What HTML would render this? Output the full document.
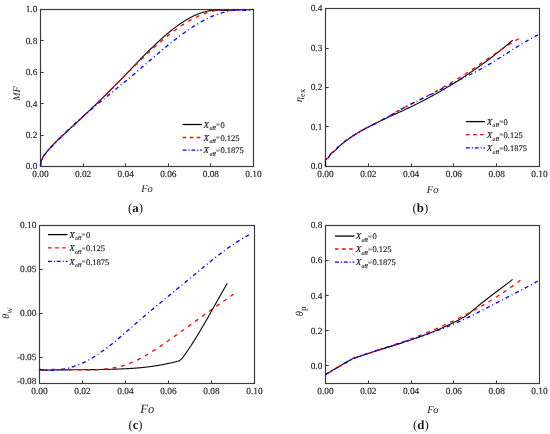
<!DOCTYPE html>
<html><head><meta charset="utf-8"><style>
html,body{margin:0;padding:0;background:#fff;}
svg{display:block;text-rendering:geometricPrecision;}
.t{font-family:"Liberation Serif", "Times New Roman", serif;font-size:9.3px;fill:#2a2a2a;stroke:#2a2a2a;stroke-width:0.18px;}
.lab{font-family:"Liberation Serif", "Times New Roman", serif;font-style:italic;fill:#222;}
.lg{font-family:"Liberation Serif", "Times New Roman", serif;font-size:8.5px;fill:#222;stroke:#222;stroke-width:0.15px;}
.cap{font-family:"Liberation Serif", "Times New Roman", serif;font-size:12.8px;fill:#1a1a1a;}
</style></head><body>
<svg width="550" height="434" viewBox="0 0 550 434">
<rect x="40.5" y="9.5" width="213.00" height="157.00" fill="none" stroke="#3c3c3c" stroke-width="1.2"/>
<text x="40.50" y="177.40" text-anchor="middle" class="t">0.00</text>
<line x1="83.50" y1="166.5" x2="83.50" y2="163.30" stroke="#3c3c3c" stroke-width="1.1"/>
<text x="83.10" y="177.40" text-anchor="middle" class="t">0.02</text>
<line x1="125.50" y1="166.5" x2="125.50" y2="163.30" stroke="#3c3c3c" stroke-width="1.1"/>
<text x="125.70" y="177.40" text-anchor="middle" class="t">0.04</text>
<line x1="168.50" y1="166.5" x2="168.50" y2="163.30" stroke="#3c3c3c" stroke-width="1.1"/>
<text x="168.30" y="177.40" text-anchor="middle" class="t">0.06</text>
<line x1="210.50" y1="166.5" x2="210.50" y2="163.30" stroke="#3c3c3c" stroke-width="1.1"/>
<text x="210.90" y="177.40" text-anchor="middle" class="t">0.08</text>
<text x="253.50" y="177.40" text-anchor="middle" class="t">0.10</text>
<text x="37.30" y="169.30" text-anchor="end" class="t">0.0</text>
<line x1="40.5" y1="135.50" x2="43.70" y2="135.50" stroke="#3c3c3c" stroke-width="1.1"/>
<text x="37.30" y="137.90" text-anchor="end" class="t">0.2</text>
<line x1="40.5" y1="103.50" x2="43.70" y2="103.50" stroke="#3c3c3c" stroke-width="1.1"/>
<text x="37.30" y="106.50" text-anchor="end" class="t">0.4</text>
<line x1="40.5" y1="72.50" x2="43.70" y2="72.50" stroke="#3c3c3c" stroke-width="1.1"/>
<text x="37.30" y="75.10" text-anchor="end" class="t">0.6</text>
<line x1="40.5" y1="40.50" x2="43.70" y2="40.50" stroke="#3c3c3c" stroke-width="1.1"/>
<text x="37.30" y="43.70" text-anchor="end" class="t">0.8</text>
<text x="37.30" y="12.30" text-anchor="end" class="t">1.0</text>
<polyline points="40.50,166.30 40.60,164.50 40.90,162.00 41.40,160.50 41.90,159.40 42.80,157.40 42.80,157.30 43.80,155.87 44.80,154.49 45.80,153.16 46.80,151.87 47.81,150.63 48.81,149.42 49.81,148.25 50.81,147.12 51.81,146.02 52.81,144.95 53.81,143.90 54.81,142.88 55.81,141.88 56.82,140.90 57.82,139.94 58.82,138.99 59.82,138.05 60.82,137.12 61.82,136.20 62.82,135.28 63.82,134.36 64.82,133.45 65.83,132.53 66.83,131.61 67.83,130.69 68.83,129.77 69.83,128.85 70.83,127.93 71.83,127.00 72.83,126.08 73.83,125.16 74.84,124.23 75.84,123.31 76.84,122.38 77.84,121.45 78.84,120.52 79.84,119.59 80.84,118.66 81.84,117.72 82.84,116.79 83.85,115.85 84.85,114.91 85.85,113.97 86.85,113.03 87.85,112.09 88.85,111.14 89.85,110.20 90.85,109.25 91.85,108.29 92.86,107.34 93.86,106.39 94.86,105.43 95.86,104.47 96.86,103.50 97.86,102.54 98.86,101.57 99.86,100.60 100.86,99.63 101.87,98.65 102.87,97.67 103.87,96.69 104.87,95.71 105.87,94.72 106.87,93.73 107.87,92.74 108.87,91.74 109.87,90.75 110.88,89.74 111.88,88.74 112.88,87.73 113.88,86.72 114.88,85.70 115.88,84.68 116.88,83.66 117.88,82.63 118.88,81.60 119.89,80.57 120.89,79.54 121.89,78.50 122.89,77.46 123.89,76.42 124.89,75.38 125.89,74.34 126.89,73.30 127.89,72.25 128.90,71.21 129.90,70.17 130.90,69.12 131.90,68.08 132.90,67.04 133.90,66.00 134.90,64.96 135.90,63.92 136.91,62.89 137.91,61.86 138.91,60.82 139.91,59.80 140.91,58.77 141.91,57.75 142.91,56.73 143.91,55.72 144.91,54.71 145.92,53.70 146.92,52.70 147.92,51.70 148.92,50.71 149.92,49.73 150.92,48.75 151.92,47.77 152.92,46.80 153.92,45.84 154.93,44.89 155.93,43.94 156.93,43.00 157.93,42.07 158.93,41.14 159.93,40.23 160.93,39.32 161.93,38.42 162.93,37.53 163.94,36.64 164.94,35.77 165.94,34.91 166.94,34.06 167.94,33.21 168.94,32.38 169.94,31.56 170.94,30.75 171.94,29.95 172.95,29.16 173.95,28.39 174.95,27.63 175.95,26.88 176.95,26.14 177.95,25.41 178.95,24.70 179.95,24.00 180.95,23.32 181.96,22.65 182.96,21.99 183.96,21.35 184.96,20.72 185.96,20.11 186.96,19.51 187.96,18.93 188.96,18.36 189.96,17.82 190.97,17.28 191.97,16.77 192.97,16.27 193.97,15.79 194.97,15.32 195.97,14.87 196.97,14.45 197.97,14.04 198.97,13.64 199.98,13.27 200.98,12.92 201.98,12.58 202.98,12.27 203.98,11.97 204.98,11.70 205.98,11.44 206.98,11.21 207.98,11.00 208.99,10.81 209.99,10.64 210.99,10.49 211.99,10.36 212.99,10.26 213.99,10.18 214.99,10.12 215.99,10.08 216.99,10.07 218.00,10.08 219.00,10.12 220.00,10.18 221.00,10.26 222.00,10.37 253.50,9.50" fill="none" stroke="#111111" stroke-width="1.15" stroke-linejoin="round"/>
<polyline points="40.50,166.30 40.60,164.50 40.90,162.00 41.40,160.50 41.90,159.40 42.80,157.40 42.80,157.06 43.80,155.71 44.80,154.40 45.80,153.12 46.80,151.88 47.81,150.68 48.81,149.51 49.81,148.37 50.81,147.26 51.81,146.17 52.81,145.11 53.81,144.08 54.81,143.06 55.81,142.06 56.82,141.08 57.82,140.11 58.82,139.16 59.82,138.22 60.82,137.28 61.82,136.35 62.82,135.43 63.82,134.51 64.82,133.58 65.82,132.66 66.83,131.74 67.83,130.81 68.83,129.88 69.83,128.95 70.83,128.02 71.83,127.08 72.83,126.15 73.83,125.21 74.83,124.27 75.84,123.33 76.84,122.39 77.84,121.44 78.84,120.49 79.84,119.55 80.84,118.60 81.84,117.64 82.84,116.69 83.84,115.74 84.85,114.78 85.85,113.82 86.85,112.86 87.85,111.90 88.85,110.94 89.85,109.98 90.85,109.01 91.85,108.04 92.85,107.08 93.86,106.11 94.86,105.14 95.86,104.17 96.86,103.19 97.86,102.22 98.86,101.25 99.86,100.27 100.86,99.29 101.86,98.31 102.86,97.33 103.87,96.35 104.87,95.37 105.87,94.39 106.87,93.41 107.87,92.42 108.87,91.44 109.87,90.45 110.87,89.46 111.87,88.47 112.88,87.48 113.88,86.49 114.88,85.50 115.88,84.51 116.88,83.52 117.88,82.53 118.88,81.53 119.88,80.54 120.88,79.55 121.89,78.55 122.89,77.56 123.89,76.56 124.89,75.56 125.89,74.57 126.89,73.58 127.89,72.58 128.89,71.59 129.89,70.60 130.90,69.61 131.90,68.62 132.90,67.63 133.90,66.64 134.90,65.66 135.90,64.68 136.90,63.70 137.90,62.73 138.90,61.75 139.90,60.78 140.91,59.81 141.91,58.85 142.91,57.89 143.91,56.93 144.91,55.98 145.91,55.03 146.91,54.09 147.91,53.15 148.91,52.22 149.92,51.29 150.92,50.36 151.92,49.44 152.92,48.53 153.92,47.62 154.92,46.72 155.92,45.83 156.92,44.94 157.92,44.05 158.93,43.18 159.93,42.31 160.93,41.45 161.93,40.59 162.93,39.74 163.93,38.90 164.93,38.07 165.93,37.25 166.93,36.43 167.94,35.62 168.94,34.83 169.94,34.04 170.94,33.25 171.94,32.48 172.94,31.72 173.94,30.97 174.94,30.22 175.94,29.49 176.94,28.77 177.95,28.06 178.95,27.35 179.95,26.66 180.95,25.98 181.95,25.31 182.95,24.66 183.95,24.01 184.95,23.37 185.95,22.75 186.96,22.14 187.96,21.54 188.96,20.96 189.96,20.38 190.96,19.82 191.96,19.28 192.96,18.74 193.96,18.22 194.96,17.71 195.97,17.22 196.97,16.74 197.97,16.28 198.97,15.83 199.97,15.39 200.97,14.97 201.97,14.56 202.97,14.17 203.97,13.80 204.98,13.44 205.98,13.09 206.98,12.76 207.98,12.45 208.98,12.15 209.98,11.87 210.98,11.61 211.98,11.37 212.98,11.14 213.98,10.93 214.99,10.73 215.99,10.56 216.99,10.40 217.99,10.26 218.99,10.14 219.99,10.03 220.99,9.95 221.99,9.88 222.99,9.83 224.00,9.81 225.00,9.80 226.00,9.81 227.00,9.84 228.00,9.89 253.50,9.50" fill="none" stroke="#ff0000" stroke-width="1.3" stroke-linejoin="round" stroke-dasharray="3.9 4.8"/>
<polyline points="40.50,166.30 40.60,164.50 40.90,162.00 41.40,160.50 41.90,159.40 42.80,157.40 42.80,156.67 43.80,155.51 44.80,154.35 45.80,153.21 46.80,152.08 47.80,150.95 48.81,149.84 49.81,148.73 50.81,147.64 51.81,146.55 52.81,145.48 53.81,144.41 54.81,143.35 55.81,142.30 56.81,141.26 57.81,140.22 58.82,139.20 59.82,138.18 60.82,137.17 61.82,136.16 62.82,135.17 63.82,134.18 64.82,133.20 65.82,132.23 66.82,131.26 67.82,130.30 68.83,129.35 69.83,128.40 70.83,127.46 71.83,126.53 72.83,125.60 73.83,124.68 74.83,123.76 75.83,122.85 76.83,121.95 77.83,121.05 78.84,120.15 79.84,119.26 80.84,118.37 81.84,117.49 82.84,116.62 83.84,115.74 84.84,114.88 85.84,114.01 86.84,113.15 87.84,112.30 88.85,111.44 89.85,110.59 90.85,109.75 91.85,108.90 92.85,108.06 93.85,107.22 94.85,106.39 95.85,105.56 96.85,104.73 97.85,103.90 98.86,103.07 99.86,102.25 100.86,101.43 101.86,100.60 102.86,99.79 103.86,98.97 104.86,98.15 105.86,97.33 106.86,96.52 107.86,95.70 108.87,94.89 109.87,94.07 110.87,93.26 111.87,92.45 112.87,91.63 113.87,90.82 114.87,90.00 115.87,89.19 116.87,88.37 117.87,87.55 118.87,86.73 119.88,85.91 120.88,85.09 121.88,84.27 122.88,83.45 123.88,82.62 124.88,81.79 125.88,80.96 126.88,80.13 127.88,79.30 128.88,78.46 129.89,77.62 130.89,76.78 131.89,75.93 132.89,75.08 133.89,74.23 134.89,73.38 135.89,72.52 136.89,71.67 137.89,70.81 138.89,69.95 139.90,69.09 140.90,68.23 141.90,67.36 142.90,66.50 143.90,65.64 144.90,64.77 145.90,63.91 146.90,63.04 147.90,62.18 148.90,61.32 149.91,60.45 150.91,59.59 151.91,58.73 152.91,57.87 153.91,57.02 154.91,56.16 155.91,55.31 156.91,54.46 157.91,53.61 158.91,52.76 159.92,51.91 160.92,51.07 161.92,50.23 162.92,49.40 163.92,48.57 164.92,47.74 165.92,46.91 166.92,46.09 167.92,45.28 168.92,44.47 169.93,43.66 170.93,42.86 171.93,42.06 172.93,41.27 173.93,40.48 174.93,39.70 175.93,38.92 176.93,38.15 177.93,37.39 178.93,36.63 179.93,35.88 180.94,35.14 181.94,34.40 182.94,33.67 183.94,32.95 184.94,32.23 185.94,31.52 186.94,30.82 187.94,30.13 188.94,29.45 189.94,28.77 190.95,28.11 191.95,27.45 192.95,26.80 193.95,26.16 194.95,25.53 195.95,24.91 196.95,24.30 197.95,23.70 198.95,23.11 199.95,22.53 200.96,21.96 201.96,21.40 202.96,20.85 203.96,20.32 204.96,19.79 205.96,19.28 206.96,18.78 207.96,18.29 208.96,17.81 209.96,17.34 210.97,16.89 211.97,16.45 212.97,16.02 213.97,15.61 214.97,15.21 215.97,14.82 216.97,14.45 217.97,14.09 218.97,13.74 219.97,13.41 220.98,13.09 221.98,12.79 222.98,12.50 223.98,12.23 224.98,11.97 225.98,11.73 226.98,11.50 227.98,11.29 228.98,11.09 229.98,10.92 230.99,10.75 231.99,10.61 232.99,10.48 233.99,10.37 234.99,10.27 235.99,10.19 236.99,10.13 237.99,10.09 238.99,10.07 239.99,10.06 241.00,10.07 242.00,10.10 243.00,10.15 244.00,10.22 245.00,10.31 246.00,10.41 253.50,9.50" fill="none" stroke="#0000ff" stroke-width="1.3" stroke-linejoin="round" stroke-dasharray="4.0 2.9 1.0 3.0"/>
<rect x="325.5" y="8.5" width="214.00" height="158.00" fill="none" stroke="#3c3c3c" stroke-width="1.2"/>
<text x="325.50" y="177.40" text-anchor="middle" class="t">0.00</text>
<line x1="368.50" y1="166.5" x2="368.50" y2="163.30" stroke="#3c3c3c" stroke-width="1.1"/>
<text x="368.30" y="177.40" text-anchor="middle" class="t">0.02</text>
<line x1="411.50" y1="166.5" x2="411.50" y2="163.30" stroke="#3c3c3c" stroke-width="1.1"/>
<text x="411.10" y="177.40" text-anchor="middle" class="t">0.04</text>
<line x1="453.50" y1="166.5" x2="453.50" y2="163.30" stroke="#3c3c3c" stroke-width="1.1"/>
<text x="453.90" y="177.40" text-anchor="middle" class="t">0.06</text>
<line x1="496.50" y1="166.5" x2="496.50" y2="163.30" stroke="#3c3c3c" stroke-width="1.1"/>
<text x="496.70" y="177.40" text-anchor="middle" class="t">0.08</text>
<text x="539.50" y="177.40" text-anchor="middle" class="t">0.10</text>
<text x="322.30" y="169.30" text-anchor="end" class="t">0.0</text>
<line x1="325.5" y1="126.50" x2="328.70" y2="126.50" stroke="#3c3c3c" stroke-width="1.1"/>
<text x="322.30" y="129.80" text-anchor="end" class="t">0.1</text>
<line x1="325.5" y1="87.50" x2="328.70" y2="87.50" stroke="#3c3c3c" stroke-width="1.1"/>
<text x="322.30" y="90.30" text-anchor="end" class="t">0.2</text>
<line x1="325.5" y1="48.50" x2="328.70" y2="48.50" stroke="#3c3c3c" stroke-width="1.1"/>
<text x="322.30" y="50.80" text-anchor="end" class="t">0.3</text>
<text x="322.30" y="11.30" text-anchor="end" class="t">0.4</text>
<polyline points="325.50,166.50 325.50,159.60 326.50,159.00 327.70,158.30 328.60,157.40 329.30,156.30 330.00,155.00 330.80,153.90 331.60,153.00 332.50,152.40 334.20,151.30 335.50,150.10 336.60,149.00 337.60,147.72 338.60,146.82 339.60,145.95 340.60,145.10 341.60,144.27 342.60,143.46 343.60,142.66 344.60,141.89 345.60,141.13 346.61,140.39 347.61,139.66 348.61,138.94 349.61,138.24 350.61,137.55 351.61,136.87 352.61,136.20 353.61,135.54 354.61,134.89 355.61,134.25 356.61,133.62 357.61,133.00 358.61,132.39 359.61,131.78 360.61,131.19 361.61,130.60 362.61,130.03 363.61,129.46 364.62,128.89 365.62,128.34 366.62,127.79 367.62,127.25 368.62,126.72 369.62,126.19 370.62,125.67 371.62,125.15 372.62,124.64 373.62,124.14 374.62,123.64 375.62,123.14 376.62,122.65 377.62,122.17 378.62,121.68 379.62,121.21 380.62,120.73 381.63,120.26 382.63,119.79 383.63,119.33 384.63,118.87 385.63,118.41 386.63,117.95 387.63,117.49 388.63,117.04 389.63,116.58 390.63,116.13 391.63,115.68 392.63,115.23 393.63,114.78 394.63,114.33 395.63,113.88 396.63,113.43 397.63,112.98 398.63,112.52 399.64,112.07 400.64,111.61 401.64,111.16 402.64,110.70 403.64,110.24 404.64,109.77 405.64,109.31 406.64,108.84 407.64,108.37 408.64,107.89 409.64,107.42 410.64,106.94 411.64,106.45 412.64,105.97 413.64,105.48 414.64,104.99 415.64,104.49 416.65,104.00 417.65,103.50 418.65,102.99 419.65,102.49 420.65,101.98 421.65,101.46 422.65,100.95 423.65,100.43 424.65,99.91 425.65,99.38 426.65,98.86 427.65,98.33 428.65,97.79 429.65,97.26 430.65,96.72 431.65,96.17 432.65,95.63 433.65,95.08 434.66,94.52 435.66,93.97 436.66,93.41 437.66,92.85 438.66,92.28 439.66,91.71 440.66,91.14 441.66,90.56 442.66,89.98 443.66,89.40 444.66,88.82 445.66,88.23 446.66,87.63 447.66,87.04 448.66,86.44 449.66,85.84 450.66,85.23 451.67,84.62 452.67,84.01 453.67,83.39 454.67,82.77 455.67,82.15 456.67,81.52 457.67,80.89 458.67,80.25 459.67,79.61 460.67,78.97 461.67,78.33 462.67,77.68 463.67,77.03 464.67,76.37 465.67,75.71 466.67,75.05 467.67,74.38 468.67,73.71 469.68,73.03 470.68,72.35 471.68,71.67 472.68,70.99 473.68,70.30 474.68,69.60 475.68,68.91 476.68,68.20 477.68,67.50 478.68,66.79 479.68,66.08 480.68,65.36 481.68,64.64 482.68,63.91 483.68,63.18 484.68,62.45 485.68,61.71 486.69,60.97 487.69,60.23 488.69,59.48 489.69,58.73 490.69,57.97 491.69,57.21 492.69,56.44 493.69,55.67 494.69,54.90 495.69,54.12 496.69,53.34 497.69,52.56 498.69,51.77 499.69,50.97 500.69,50.17 501.69,49.37 502.69,48.56 503.69,47.75 504.70,46.94 505.70,46.12 506.70,45.29 507.70,44.46 508.70,43.63 509.70,42.79 510.70,41.95 511.70,41.11 512.70,40.26" fill="none" stroke="#111111" stroke-width="1.15" stroke-linejoin="round"/>
<polyline points="325.50,166.50 325.50,159.60 326.50,159.00 327.70,158.30 328.60,157.40 329.30,156.30 330.00,155.00 330.80,153.90 331.60,153.00 332.50,152.40 334.20,151.30 335.50,150.10 336.60,149.00 337.60,147.58 338.60,146.66 339.60,145.76 340.60,144.89 341.60,144.03 342.60,143.21 343.60,142.40 344.60,141.61 345.60,140.85 346.60,140.10 347.61,139.37 348.61,138.66 349.61,137.97 350.61,137.29 351.61,136.63 352.61,135.98 353.61,135.34 354.61,134.72 355.61,134.11 356.61,133.51 357.61,132.92 358.61,132.34 359.61,131.76 360.61,131.20 361.61,130.65 362.61,130.10 363.61,129.56 364.61,129.02 365.62,128.49 366.62,127.97 367.62,127.45 368.62,126.93 369.62,126.42 370.62,125.91 371.62,125.40 372.62,124.89 373.62,124.38 374.62,123.87 375.62,123.36 376.62,122.85 377.62,122.33 378.62,121.82 379.62,121.30 380.62,120.77 381.62,120.25 382.62,119.71 383.63,119.17 384.63,118.63 385.63,118.07 386.63,117.51 387.63,116.95 388.63,116.38 389.63,115.81 390.63,115.23 391.63,114.66 392.63,114.08 393.63,113.50 394.63,112.93 395.63,112.36 396.63,111.79 397.63,111.23 398.63,110.68 399.63,110.13 400.63,109.60 401.64,109.07 402.64,108.55 403.64,108.03 404.64,107.52 405.64,107.02 406.64,106.51 407.64,106.02 408.64,105.52 409.64,105.02 410.64,104.52 411.64,104.02 412.64,103.51 413.64,103.01 414.64,102.51 415.64,102.00 416.64,101.49 417.64,100.98 418.64,100.47 419.65,99.96 420.65,99.44 421.65,98.92 422.65,98.40 423.65,97.88 424.65,97.36 425.65,96.84 426.65,96.31 427.65,95.78 428.65,95.25 429.65,94.72 430.65,94.18 431.65,93.64 432.65,93.10 433.65,92.56 434.65,92.02 435.65,91.47 436.65,90.92 437.66,90.37 438.66,89.81 439.66,89.26 440.66,88.70 441.66,88.13 442.66,87.57 443.66,87.00 444.66,86.43 445.66,85.86 446.66,85.28 447.66,84.70 448.66,84.12 449.66,83.53 450.66,82.94 451.66,82.35 452.66,81.75 453.66,81.15 454.66,80.55 455.67,79.95 456.67,79.34 457.67,78.73 458.67,78.11 459.67,77.49 460.67,76.87 461.67,76.24 462.67,75.61 463.67,74.98 464.67,74.34 465.67,73.70 466.67,73.06 467.67,72.41 468.67,71.75 469.67,71.10 470.67,70.44 471.67,69.77 472.67,69.10 473.68,68.43 474.68,67.76 475.68,67.08 476.68,66.40 477.68,65.71 478.68,65.03 479.68,64.34 480.68,63.65 481.68,62.96 482.68,62.27 483.68,61.58 484.68,60.89 485.68,60.20 486.68,59.50 487.68,58.81 488.68,58.12 489.68,57.43 490.68,56.73 491.69,56.04 492.69,55.36 493.69,54.67 494.69,53.98 495.69,53.30 496.69,52.62 497.69,51.94 498.69,51.27 499.69,50.59 500.69,49.92 501.69,49.26 502.69,48.60 503.69,47.94 504.69,47.29 505.69,46.64 506.69,45.99 507.69,45.36 508.69,44.72 509.70,44.09 510.70,43.47 511.70,42.86 512.70,42.25 513.70,41.64 514.70,41.05 515.70,40.46 516.70,39.88 517.70,39.30 518.70,38.74" fill="none" stroke="#ff0000" stroke-width="1.3" stroke-linejoin="round" stroke-dasharray="3.9 4.8" stroke-dashoffset="2.89"/>
<polyline points="325.50,166.50 325.50,159.60 326.50,159.00 327.70,158.30 328.60,157.40 329.30,156.30 330.00,155.00 330.80,153.90 331.60,153.00 332.50,152.40 334.20,151.30 335.50,150.10 336.60,149.00 337.60,147.55 338.60,146.63 339.60,145.73 340.61,144.85 341.61,144.00 342.61,143.17 343.61,142.37 344.61,141.59 345.62,140.82 346.62,140.08 347.62,139.35 348.62,138.65 349.62,137.96 350.63,137.28 351.63,136.62 352.63,135.98 353.63,135.35 354.63,134.73 355.64,134.12 356.64,133.53 357.64,132.94 358.64,132.36 359.64,131.79 360.65,131.23 361.65,130.67 362.65,130.12 363.65,129.58 364.65,129.04 365.66,128.51 366.66,127.98 367.66,127.45 368.66,126.93 369.66,126.41 370.67,125.89 371.67,125.38 372.67,124.87 373.67,124.35 374.67,123.84 375.68,123.33 376.68,122.81 377.68,122.30 378.68,121.78 379.68,121.27 380.69,120.75 381.69,120.23 382.69,119.70 383.69,119.17 384.69,118.64 385.70,118.10 386.70,117.55 387.70,117.00 388.70,116.45 389.70,115.89 390.71,115.32 391.71,114.74 392.71,114.16 393.71,113.58 394.71,112.99 395.72,112.40 396.72,111.81 397.72,111.22 398.72,110.64 399.72,110.05 400.73,109.48 401.73,108.91 402.73,108.34 403.73,107.79 404.73,107.24 405.74,106.70 406.74,106.18 407.74,105.66 408.74,105.16 409.74,104.66 410.75,104.16 411.75,103.68 412.75,103.20 413.75,102.72 414.75,102.24 415.76,101.77 416.76,101.30 417.76,100.82 418.76,100.35 419.76,99.88 420.77,99.40 421.77,98.92 422.77,98.43 423.77,97.95 424.77,97.46 425.78,96.96 426.78,96.47 427.78,95.97 428.78,95.48 429.78,94.98 430.79,94.47 431.79,93.97 432.79,93.47 433.79,92.96 434.79,92.45 435.80,91.94 436.80,91.43 437.80,90.92 438.80,90.41 439.80,89.90 440.81,89.39 441.81,88.88 442.81,88.36 443.81,87.85 444.81,87.34 445.82,86.83 446.82,86.31 447.82,85.80 448.82,85.29 449.82,84.78 450.83,84.27 451.83,83.77 452.83,83.26 453.83,82.75 454.83,82.25 455.84,81.75 456.84,81.25 457.84,80.75 458.84,80.25 459.84,79.75 460.85,79.25 461.85,78.76 462.85,78.26 463.85,77.76 464.85,77.26 465.86,76.76 466.86,76.26 467.86,75.76 468.86,75.26 469.86,74.75 470.87,74.24 471.87,73.73 472.87,73.22 473.87,72.70 474.87,72.18 475.88,71.66 476.88,71.13 477.88,70.60 478.88,70.07 479.88,69.53 480.89,68.98 481.89,68.44 482.89,67.88 483.89,67.32 484.89,66.75 485.90,66.18 486.90,65.60 487.90,65.02 488.90,64.43 489.90,63.84 490.91,63.24 491.91,62.64 492.91,62.03 493.91,61.42 494.91,60.80 495.92,60.18 496.92,59.56 497.92,58.94 498.92,58.31 499.92,57.68 500.93,57.05 501.93,56.42 502.93,55.79 503.93,55.15 504.93,54.52 505.94,53.88 506.94,53.24 507.94,52.61 508.94,51.97 509.94,51.34 510.95,50.70 511.95,50.07 512.95,49.44 513.95,48.81 514.95,48.18 515.96,47.55 516.96,46.93 517.96,46.31 518.96,45.69 519.96,45.08 520.97,44.47 521.97,43.86 522.97,43.26 523.97,42.66 524.97,42.07 525.98,41.48 526.98,40.90 527.98,40.32 528.98,39.75 529.98,39.18 530.99,38.62 531.99,38.07 532.99,37.53 533.99,36.99 534.99,36.46 536.00,35.94 537.00,35.43 538.00,34.92" fill="none" stroke="#0000ff" stroke-width="1.3" stroke-linejoin="round" stroke-dasharray="4.0 2.9 1.0 3.0"/>
<rect x="39.5" y="225.5" width="215.00" height="158.00" fill="none" stroke="#3c3c3c" stroke-width="1.2"/>
<text x="39.50" y="394.40" text-anchor="middle" class="t">0.00</text>
<line x1="82.50" y1="383.5" x2="82.50" y2="380.30" stroke="#3c3c3c" stroke-width="1.1"/>
<text x="82.50" y="394.40" text-anchor="middle" class="t">0.02</text>
<line x1="125.50" y1="383.5" x2="125.50" y2="380.30" stroke="#3c3c3c" stroke-width="1.1"/>
<text x="125.50" y="394.40" text-anchor="middle" class="t">0.04</text>
<line x1="168.50" y1="383.5" x2="168.50" y2="380.30" stroke="#3c3c3c" stroke-width="1.1"/>
<text x="168.50" y="394.40" text-anchor="middle" class="t">0.06</text>
<line x1="211.50" y1="383.5" x2="211.50" y2="380.30" stroke="#3c3c3c" stroke-width="1.1"/>
<text x="211.50" y="394.40" text-anchor="middle" class="t">0.08</text>
<text x="254.50" y="394.40" text-anchor="middle" class="t">0.10</text>
<text x="36.30" y="384.30" text-anchor="end" class="t">-0.08</text>
<line x1="39.5" y1="357.50" x2="42.70" y2="357.50" stroke="#3c3c3c" stroke-width="1.1"/>
<text x="36.30" y="359.97" text-anchor="end" class="t">-0.05</text>
<line x1="39.5" y1="313.50" x2="42.70" y2="313.50" stroke="#3c3c3c" stroke-width="1.1"/>
<text x="36.30" y="316.08" text-anchor="end" class="t">0.00</text>
<line x1="39.5" y1="269.50" x2="42.70" y2="269.50" stroke="#3c3c3c" stroke-width="1.1"/>
<text x="36.30" y="272.19" text-anchor="end" class="t">0.05</text>
<text x="36.30" y="228.30" text-anchor="end" class="t">0.10</text>
<polyline points="39.50,370.26 40.00,370.25 40.50,370.23 41.00,370.22 41.50,370.21 42.00,370.20 42.50,370.18 43.01,370.17 43.51,370.16 44.01,370.15 44.51,370.14 45.01,370.13 45.51,370.12 46.01,370.11 46.51,370.10 47.01,370.09 47.51,370.08 48.01,370.07 48.51,370.06 49.02,370.05 49.52,370.04 50.02,370.03 50.52,370.02 51.02,370.02 51.52,370.01 52.02,370.00 52.52,369.99 53.02,369.98 53.52,369.98 54.02,369.97 54.52,369.96 55.02,369.96 55.53,369.95 56.03,369.94 56.53,369.94 57.03,369.93 57.53,369.92 58.03,369.92 58.53,369.91 59.03,369.91 59.53,369.90 60.03,369.90 60.53,369.89 61.03,369.89 61.54,369.88 62.04,369.87 62.54,369.87 63.04,369.87 63.54,369.86 64.04,369.86 64.54,369.85 65.04,369.85 65.54,369.84 66.04,369.84 66.54,369.83 67.04,369.83 67.54,369.83 68.05,369.82 68.55,369.82 69.05,369.81 69.55,369.81 70.05,369.81 70.55,369.80 71.05,369.80 71.55,369.80 72.05,369.79 72.55,369.79 73.05,369.78 73.55,369.78 74.06,369.78 74.56,369.77 75.06,369.77 75.56,369.77 76.06,369.76 76.56,369.76 77.06,369.76 77.56,369.75 78.06,369.75 78.56,369.74 79.06,369.74 79.56,369.74 80.06,369.73 80.57,369.73 81.07,369.73 81.57,369.72 82.07,369.72 82.57,369.71 83.07,369.71 83.57,369.71 84.07,369.70 84.57,369.70 85.07,369.69 85.57,369.69 86.07,369.68 86.58,369.68 87.08,369.67 87.58,369.67 88.08,369.66 88.58,369.66 89.08,369.65 89.58,369.65 90.08,369.64 90.58,369.64 91.08,369.63 91.58,369.63 92.08,369.62 92.58,369.62 93.09,369.61 93.59,369.60 94.09,369.60 94.59,369.59 95.09,369.58 95.59,369.58 96.09,369.57 96.59,369.56 97.09,369.56 97.59,369.55 98.09,369.54 98.59,369.53 99.10,369.53 99.60,369.52 100.10,369.51 100.60,369.50 101.10,369.49 101.60,369.48 102.10,369.47 102.60,369.46 103.10,369.45 103.60,369.44 104.10,369.43 104.60,369.42 105.10,369.41 105.61,369.40 106.11,369.39 106.61,369.38 107.11,369.37 107.61,369.36 108.11,369.35 108.61,369.33 109.11,369.32 109.61,369.31 110.11,369.30 110.61,369.28 111.11,369.27 111.62,369.25 112.12,369.24 112.62,369.23 113.12,369.21 113.62,369.20 114.12,369.18 114.62,369.17 115.12,369.15 115.62,369.13 116.12,369.12 116.62,369.10 117.12,369.08 117.62,369.06 118.13,369.05 118.63,369.03 119.13,369.01 119.63,368.99 120.13,368.97 120.63,368.95 121.13,368.93 121.63,368.91 122.13,368.89 122.63,368.87 123.13,368.84 123.63,368.82 124.14,368.80 124.64,368.77 125.14,368.75 125.64,368.73 126.14,368.70 126.64,368.67 127.14,368.65 127.64,368.62 128.14,368.59 128.64,368.56 129.14,368.53 129.64,368.51 130.14,368.47 130.65,368.44 131.15,368.41 131.65,368.38 132.15,368.35 132.65,368.31 133.15,368.28 133.65,368.24 134.15,368.21 134.65,368.17 135.15,368.13 135.65,368.10 136.15,368.06 136.66,368.02 137.16,367.98 137.66,367.94 138.16,367.89 138.66,367.85 139.16,367.81 139.66,367.76 140.16,367.72 140.66,367.67 141.16,367.62 141.66,367.57 142.16,367.53 142.66,367.48 143.17,367.42 143.67,367.37 144.17,367.32 144.67,367.27 145.17,367.21 145.67,367.15 146.17,367.10 146.67,367.04 147.17,366.98 147.67,366.92 148.17,366.86 148.67,366.80 149.18,366.73 149.68,366.67 150.18,366.61 150.68,366.54 151.18,366.47 151.68,366.40 152.18,366.33 152.68,366.26 153.18,366.19 153.68,366.12 154.18,366.04 154.68,365.97 155.18,365.89 155.69,365.81 156.19,365.73 156.69,365.65 157.19,365.57 157.69,365.49 158.19,365.40 158.69,365.32 159.19,365.23 159.69,365.14 160.19,365.05 160.69,364.96 161.19,364.87 161.70,364.78 162.20,364.68 162.70,364.59 163.20,364.49 163.70,364.39 164.20,364.30 164.70,364.20 165.20,364.10 165.70,363.99 166.20,363.89 166.70,363.79 167.20,363.68 167.70,363.58 168.21,363.47 168.71,363.36 169.21,363.25 169.71,363.14 170.21,363.03 170.71,362.92 171.21,362.80 171.71,362.69 172.21,362.57 172.71,362.45 173.21,362.34 173.71,362.22 174.22,362.10 174.72,361.98 175.22,361.86 175.72,361.73 176.22,361.61 176.72,361.48 177.22,361.35 177.72,361.21 178.22,361.05 178.72,360.86 179.22,360.64 179.72,360.37 180.22,360.05 180.73,359.68 181.23,359.23 181.73,358.72 182.23,358.13 182.73,357.49 183.23,356.81 183.73,356.13 184.23,355.44 184.73,354.74 185.23,354.04 185.73,353.34 186.23,352.62 186.74,351.91 187.24,351.18 187.74,350.45 188.24,349.72 188.74,348.98 189.24,348.24 189.74,347.49 190.24,346.73 190.74,345.97 191.24,345.21 191.74,344.44 192.24,343.66 192.74,342.88 193.25,342.10 193.75,341.31 194.25,340.52 194.75,339.72 195.25,338.92 195.75,338.12 196.25,337.31 196.75,336.49 197.25,335.68 197.75,334.85 198.25,334.03 198.75,333.20 199.26,332.37 199.76,331.53 200.26,330.69 200.76,329.85 201.26,329.00 201.76,328.15 202.26,327.29 202.76,326.44 203.26,325.58 203.76,324.71 204.26,323.85 204.76,322.98 205.26,322.11 205.77,321.24 206.27,320.36 206.77,319.49 207.27,318.61 207.77,317.73 208.27,316.85 208.77,315.96 209.27,315.08 209.77,314.19 210.27,313.30 210.77,312.41 211.27,311.52 211.78,310.63 212.28,309.74 212.78,308.85 213.28,307.96 213.78,307.07 214.28,306.17 214.78,305.28 215.28,304.39 215.78,303.50 216.28,302.60 216.78,301.71 217.28,300.82 217.78,299.93 218.29,299.04 218.79,298.15 219.29,297.26 219.79,296.38 220.29,295.49 220.79,294.61 221.29,293.73 221.79,292.84 222.29,291.97 222.79,291.09 223.29,290.21 223.79,289.34 224.30,288.47 224.80,287.60 225.30,286.74 225.80,285.87 226.30,285.01 226.80,284.16 227.30,283.30" fill="none" stroke="#111111" stroke-width="1.15" stroke-linejoin="round"/>
<polyline points="39.50,370.40 40.50,370.28 41.50,370.16 42.50,370.05 43.50,369.96 44.50,369.87 45.50,369.78 46.50,369.71 47.50,369.64 48.50,369.58 49.51,369.53 50.51,369.48 51.51,369.44 52.51,369.41 53.51,369.38 54.51,369.36 55.51,369.34 56.51,369.32 57.51,369.32 58.51,369.31 59.51,369.31 60.51,369.32 61.51,369.32 62.51,369.34 63.51,369.35 64.51,369.37 65.51,369.39 66.51,369.41 67.51,369.43 68.51,369.46 69.52,369.48 70.52,369.51 71.52,369.54 72.52,369.57 73.52,369.60 74.52,369.63 75.52,369.66 76.52,369.69 77.52,369.72 78.52,369.74 79.52,369.77 80.52,369.79 81.52,369.82 82.52,369.84 83.52,369.85 84.52,369.87 85.52,369.88 86.52,369.89 87.52,369.90 88.53,369.90 89.53,369.90 90.53,369.89 91.53,369.88 92.53,369.87 93.53,369.84 94.53,369.82 95.53,369.79 96.53,369.75 97.53,369.71 98.53,369.66 99.53,369.60 100.53,369.53 101.53,369.46 102.53,369.38 103.53,369.30 104.53,369.20 105.53,369.10 106.53,368.99 107.54,368.87 108.54,368.74 109.54,368.60 110.54,368.45 111.54,368.29 112.54,368.12 113.54,367.94 114.54,367.75 115.54,367.55 116.54,367.34 117.54,367.11 118.54,366.88 119.54,366.63 120.54,366.37 121.54,366.10 122.54,365.81 123.54,365.51 124.54,365.20 125.54,364.87 126.54,364.53 127.55,364.17 128.55,363.80 129.55,363.42 130.55,363.02 131.55,362.61 132.55,362.18 133.55,361.74 134.55,361.29 135.55,360.82 136.55,360.35 137.55,359.86 138.55,359.35 139.55,358.84 140.55,358.32 141.55,357.78 142.55,357.24 143.55,356.68 144.55,356.12 145.55,355.55 146.56,354.96 147.56,354.37 148.56,353.77 149.56,353.17 150.56,352.55 151.56,351.93 152.56,351.30 153.56,350.66 154.56,350.02 155.56,349.37 156.56,348.72 157.56,348.06 158.56,347.40 159.56,346.73 160.56,346.06 161.56,345.38 162.56,344.70 163.56,344.02 164.56,343.33 165.56,342.64 166.57,341.95 167.57,341.25 168.57,340.55 169.57,339.85 170.57,339.15 171.57,338.44 172.57,337.73 173.57,337.02 174.57,336.31 175.57,335.59 176.57,334.88 177.57,334.16 178.57,333.44 179.57,332.72 180.57,331.99 181.57,331.27 182.57,330.55 183.57,329.82 184.57,329.09 185.58,328.37 186.58,327.64 187.58,326.91 188.58,326.18 189.58,325.45 190.58,324.72 191.58,323.99 192.58,323.26 193.58,322.54 194.58,321.81 195.58,321.08 196.58,320.35 197.58,319.62 198.58,318.90 199.58,318.17 200.58,317.45 201.58,316.73 202.58,316.00 203.58,315.28 204.59,314.57 205.59,313.85 206.59,313.13 207.59,312.42 208.59,311.71 209.59,311.00 210.59,310.29 211.59,309.58 212.59,308.87 213.59,308.17 214.59,307.46 215.59,306.75 216.59,306.05 217.59,305.35 218.59,304.64 219.59,303.94 220.59,303.24 221.59,302.53 222.59,301.83 223.59,301.13 224.60,300.42 225.60,299.72 226.60,299.01 227.60,298.31 228.60,297.60 229.60,296.89 230.60,296.19 231.60,295.48 232.60,294.77 233.60,294.05" fill="none" stroke="#ff0000" stroke-width="1.3" stroke-linejoin="round" stroke-dasharray="3.9 4.8" stroke-dashoffset="5.26"/>
<polyline points="39.50,369.27 40.50,369.44 41.50,369.59 42.50,369.73 43.50,369.85 44.50,369.96 45.51,370.05 46.51,370.13 47.51,370.19 48.51,370.24 49.51,370.27 50.51,370.29 51.51,370.29 52.51,370.28 53.51,370.25 54.51,370.20 55.52,370.14 56.52,370.07 57.52,369.98 58.52,369.88 59.52,369.76 60.52,369.63 61.52,369.48 62.52,369.32 63.52,369.14 64.52,368.95 65.52,368.74 66.53,368.52 67.53,368.28 68.53,368.03 69.53,367.77 70.53,367.49 71.53,367.19 72.53,366.88 73.53,366.56 74.53,366.22 75.53,365.87 76.54,365.51 77.54,365.12 78.54,364.73 79.54,364.32 80.54,363.90 81.54,363.46 82.54,363.01 83.54,362.54 84.54,362.06 85.54,361.57 86.54,361.06 87.55,360.54 88.55,360.00 89.55,359.45 90.55,358.89 91.55,358.31 92.55,357.72 93.55,357.12 94.55,356.50 95.55,355.86 96.55,355.22 97.55,354.56 98.56,353.89 99.56,353.21 100.56,352.51 101.56,351.80 102.56,351.09 103.56,350.36 104.56,349.62 105.56,348.87 106.56,348.12 107.56,347.35 108.57,346.57 109.57,345.79 110.57,345.00 111.57,344.20 112.57,343.39 113.57,342.58 114.57,341.76 115.57,340.93 116.57,340.10 117.57,339.27 118.57,338.42 119.58,337.58 120.58,336.72 121.58,335.87 122.58,335.01 123.58,334.15 124.58,333.28 125.58,332.42 126.58,331.55 127.58,330.68 128.58,329.80 129.59,328.93 130.59,328.06 131.59,327.18 132.59,326.31 133.59,325.43 134.59,324.56 135.59,323.69 136.59,322.82 137.59,321.95 138.59,321.09 139.59,320.22 140.60,319.36 141.60,318.50 142.60,317.65 143.60,316.80 144.60,315.94 145.60,315.09 146.60,314.25 147.60,313.40 148.60,312.56 149.60,311.72 150.61,310.88 151.61,310.04 152.61,309.20 153.61,308.37 154.61,307.53 155.61,306.70 156.61,305.87 157.61,305.04 158.61,304.21 159.61,303.38 160.61,302.55 161.62,301.73 162.62,300.90 163.62,300.08 164.62,299.25 165.62,298.42 166.62,297.60 167.62,296.78 168.62,295.95 169.62,295.13 170.62,294.30 171.63,293.48 172.63,292.65 173.63,291.83 174.63,291.01 175.63,290.18 176.63,289.36 177.63,288.53 178.63,287.71 179.63,286.88 180.63,286.06 181.63,285.23 182.64,284.40 183.64,283.58 184.64,282.75 185.64,281.93 186.64,281.10 187.64,280.28 188.64,279.45 189.64,278.62 190.64,277.80 191.64,276.97 192.65,276.14 193.65,275.32 194.65,274.49 195.65,273.66 196.65,272.84 197.65,272.01 198.65,271.18 199.65,270.36 200.65,269.53 201.65,268.71 202.65,267.88 203.66,267.06 204.66,266.24 205.66,265.42 206.66,264.60 207.66,263.79 208.66,262.98 209.66,262.17 210.66,261.36 211.66,260.56 212.66,259.75 213.66,258.96 214.67,258.16 215.67,257.37 216.67,256.59 217.67,255.81 218.67,255.03 219.67,254.26 220.67,253.49 221.67,252.73 222.67,251.98 223.67,251.23 224.68,250.48 225.68,249.75 226.68,249.02 227.68,248.29 228.68,247.57 229.68,246.86 230.68,246.16 231.68,245.46 232.68,244.78 233.68,244.10 234.68,243.42 235.69,242.76 236.69,242.11 237.69,241.46 238.69,240.83 239.69,240.20 240.69,239.58 241.69,238.97 242.69,238.38 243.69,237.79 244.69,237.21 245.70,236.65 246.70,236.09 247.70,235.55 248.70,235.01 249.70,234.49 250.70,233.98" fill="none" stroke="#0000ff" stroke-width="1.3" stroke-linejoin="round" stroke-dasharray="4.0 2.9 1.0 3.0"/>
<rect x="325.5" y="225.5" width="214.00" height="158.00" fill="none" stroke="#3c3c3c" stroke-width="1.2"/>
<text x="325.50" y="394.40" text-anchor="middle" class="t">0.00</text>
<line x1="368.50" y1="383.5" x2="368.50" y2="380.30" stroke="#3c3c3c" stroke-width="1.1"/>
<text x="368.30" y="394.40" text-anchor="middle" class="t">0.02</text>
<line x1="411.50" y1="383.5" x2="411.50" y2="380.30" stroke="#3c3c3c" stroke-width="1.1"/>
<text x="411.10" y="394.40" text-anchor="middle" class="t">0.04</text>
<line x1="453.50" y1="383.5" x2="453.50" y2="380.30" stroke="#3c3c3c" stroke-width="1.1"/>
<text x="453.90" y="394.40" text-anchor="middle" class="t">0.06</text>
<line x1="496.50" y1="383.5" x2="496.50" y2="380.30" stroke="#3c3c3c" stroke-width="1.1"/>
<text x="496.70" y="394.40" text-anchor="middle" class="t">0.08</text>
<text x="539.50" y="394.40" text-anchor="middle" class="t">0.10</text>
<line x1="325.5" y1="365.50" x2="328.70" y2="365.50" stroke="#3c3c3c" stroke-width="1.1"/>
<text x="322.30" y="368.74" text-anchor="end" class="t">0.0</text>
<line x1="325.5" y1="330.50" x2="328.70" y2="330.50" stroke="#3c3c3c" stroke-width="1.1"/>
<text x="322.30" y="333.63" text-anchor="end" class="t">0.2</text>
<line x1="325.5" y1="295.50" x2="328.70" y2="295.50" stroke="#3c3c3c" stroke-width="1.1"/>
<text x="322.30" y="298.52" text-anchor="end" class="t">0.4</text>
<line x1="325.5" y1="260.50" x2="328.70" y2="260.50" stroke="#3c3c3c" stroke-width="1.1"/>
<text x="322.30" y="263.41" text-anchor="end" class="t">0.6</text>
<text x="322.30" y="228.30" text-anchor="end" class="t">0.8</text>
<polyline points="325.50,374.60 339.00,366.60 352.80,358.57 353.61,358.29 354.41,358.01 355.22,357.73 356.02,357.46 356.82,357.18 357.63,356.91 358.44,356.64 359.24,356.37 360.05,356.10 360.85,355.83 361.66,355.56 362.46,355.30 363.26,355.04 364.07,354.77 364.88,354.51 365.68,354.25 366.49,353.99 367.29,353.73 368.10,353.47 368.90,353.21 369.70,352.96 370.51,352.70 371.31,352.44 372.12,352.19 372.93,351.93 373.73,351.68 374.54,351.43 375.34,351.18 376.14,350.92 376.95,350.67 377.75,350.42 378.56,350.17 379.37,349.92 380.17,349.67 380.98,349.42 381.78,349.17 382.59,348.92 383.39,348.67 384.19,348.42 385.00,348.17 385.81,347.92 386.61,347.67 387.42,347.42 388.22,347.17 389.02,346.92 389.83,346.67 390.63,346.41 391.44,346.16 392.25,345.91 393.05,345.66 393.86,345.41 394.66,345.15 395.47,344.90 396.27,344.65 397.07,344.39 397.88,344.14 398.69,343.88 399.49,343.62 400.30,343.37 401.10,343.11 401.91,342.85 402.71,342.59 403.51,342.33 404.32,342.07 405.12,341.80 405.93,341.54 406.74,341.27 407.54,341.01 408.35,340.74 409.15,340.47 409.95,340.20 410.76,339.93 411.56,339.66 412.37,339.39 413.18,339.11 413.98,338.83 414.79,338.55 415.59,338.28 416.39,337.99 417.20,337.71 418.00,337.43 418.81,337.14 419.62,336.85 420.42,336.56 421.23,336.27 422.03,335.98 422.84,335.68 423.64,335.38 424.44,335.08 425.25,334.78 426.06,334.48 426.86,334.17 427.67,333.87 428.47,333.56 429.27,333.24 430.08,332.93 430.88,332.61 431.69,332.29 432.50,331.97 433.30,331.65 434.11,331.32 434.91,330.99 435.72,330.66 436.52,330.33 437.32,329.99 438.13,329.65 438.94,329.31 439.74,328.96 440.55,328.62 441.35,328.27 442.15,327.91 442.96,327.56 443.76,327.20 444.57,326.83 445.38,326.47 446.18,326.10 446.99,325.73 447.79,325.35 448.60,324.98 449.40,324.60 450.20,324.21 451.01,323.82 451.81,323.43 452.62,323.04 453.43,322.64 454.23,322.24 455.03,321.83 455.84,321.42 456.64,321.01 457.45,320.60 458.25,320.18 459.06,319.75 459.87,319.33 460.67,318.89 461.48,318.46 462.28,318.02 463.09,317.58 463.89,317.13 464.69,316.68 465.50,316.23 470.00,312.70 475.00,308.60 480.20,304.30 487.00,299.00 493.10,294.30 501.10,288.20 509.20,282.10 512.60,279.40" fill="none" stroke="#111111" stroke-width="1.15" stroke-linejoin="round"/>
<polyline points="325.50,374.60 339.00,366.60 352.80,358.38 353.60,358.13 354.40,357.88 355.21,357.62 356.01,357.37 356.81,357.12 357.61,356.87 358.42,356.62 359.22,356.37 360.02,356.12 360.82,355.86 361.63,355.61 362.43,355.36 363.23,355.10 364.03,354.85 364.84,354.59 365.64,354.34 366.44,354.09 367.24,353.83 368.05,353.57 368.85,353.32 369.65,353.06 370.45,352.80 371.26,352.54 372.06,352.29 372.86,352.03 373.66,351.77 374.46,351.51 375.27,351.25 376.07,350.99 376.87,350.72 377.67,350.46 378.48,350.20 379.28,349.93 380.08,349.67 380.88,349.41 381.69,349.14 382.49,348.87 383.29,348.61 384.09,348.34 384.90,348.07 385.70,347.80 386.50,347.53 387.30,347.26 388.11,346.99 388.91,346.71 389.71,346.44 390.51,346.17 391.31,345.89 392.12,345.62 392.92,345.34 393.72,345.06 394.52,344.78 395.33,344.50 396.13,344.22 396.93,343.94 397.73,343.66 398.54,343.37 399.34,343.09 400.14,342.80 400.94,342.52 401.75,342.23 402.55,341.94 403.35,341.65 404.15,341.36 404.96,341.07 405.76,340.78 406.56,340.48 407.36,340.19 408.17,339.89 408.97,339.59 409.77,339.29 410.57,338.99 411.37,338.69 412.18,338.39 412.98,338.09 413.78,337.78 414.58,337.48 415.39,337.17 416.19,336.86 416.99,336.55 417.79,336.24 418.60,335.93 419.40,335.61 420.20,335.30 421.00,334.98 421.81,334.66 422.61,334.34 423.41,334.02 424.21,333.70 425.02,333.37 425.82,333.05 426.62,332.72 427.42,332.39 428.22,332.06 429.03,331.73 429.83,331.40 430.63,331.06 431.43,330.73 432.24,330.39 433.04,330.05 433.84,329.71 434.64,329.36 435.45,329.02 436.25,328.67 437.05,328.33 437.85,327.98 438.66,327.63 439.46,327.27 440.26,326.92 441.06,326.56 441.87,326.20 442.67,325.84 443.47,325.48 444.27,325.12 445.08,324.75 445.88,324.39 446.68,324.02 447.48,323.65 448.28,323.27 449.09,322.90 449.89,322.52 450.69,322.14 451.49,321.76 452.30,321.38 453.10,321.00 453.90,320.61 454.70,320.22 455.51,319.83 456.31,319.44 457.11,319.05 457.91,318.65 458.72,318.25 459.52,317.85 460.32,317.45 461.12,317.04 461.93,316.64 462.73,316.23 463.53,315.82 464.33,315.40 465.13,314.99 465.94,314.57 466.74,314.15 467.54,313.73 468.34,313.30 469.15,312.88 469.95,312.45 470.75,312.02 471.55,311.59 472.36,311.15 473.16,310.71 473.96,310.27 474.76,309.83 475.57,309.38 476.37,308.94 477.17,308.49 477.97,308.03 478.78,307.58 479.58,307.12 480.38,306.66 481.18,306.20 481.99,305.74 482.79,305.27 483.59,304.80 484.39,304.33 485.19,303.85 486.00,303.38 486.80,302.90 487.60,302.42 488.40,301.93 489.21,301.44 490.01,300.95 490.81,300.46 491.61,299.97 492.42,299.47 493.22,298.97 494.02,298.46 494.82,297.96 495.63,297.45 496.43,296.94 497.23,296.42 498.03,295.91 498.84,295.39 499.64,294.86 500.44,294.34 501.24,293.81 502.04,293.28 502.85,292.75 503.65,292.21 504.45,291.67 505.25,291.13 506.06,290.58 506.86,290.03 507.66,289.48 508.46,288.93 509.27,288.37 510.07,287.81 510.87,287.25 511.67,286.68 512.48,286.11 513.28,285.54 514.08,284.96 514.88,284.39 515.69,283.80 516.49,283.22 517.29,282.63 518.09,282.04 518.90,281.45 519.70,280.85 520.50,280.25" fill="none" stroke="#ff0000" stroke-width="1.3" stroke-linejoin="round" stroke-dasharray="3.9 4.8" stroke-dashoffset="3.62"/>
<polyline points="325.50,374.60 339.00,366.60 352.80,358.82 353.60,358.52 354.40,358.22 355.20,357.91 356.00,357.62 356.80,357.32 357.61,357.02 358.41,356.73 359.21,356.44 360.01,356.15 360.81,355.86 361.61,355.57 362.41,355.29 363.21,355.01 364.01,354.73 364.81,354.45 365.61,354.17 366.41,353.89 367.22,353.61 368.02,353.34 368.82,353.07 369.62,352.80 370.42,352.53 371.22,352.26 372.02,351.99 372.82,351.72 373.62,351.46 374.42,351.19 375.22,350.93 376.03,350.67 376.83,350.41 377.63,350.15 378.43,349.89 379.23,349.63 380.03,349.37 380.83,349.11 381.63,348.86 382.43,348.60 383.23,348.34 384.03,348.09 384.83,347.84 385.64,347.58 386.44,347.33 387.24,347.08 388.04,346.83 388.84,346.57 389.64,346.32 390.44,346.07 391.24,345.82 392.04,345.57 392.84,345.32 393.64,345.07 394.45,344.82 395.25,344.57 396.05,344.32 396.85,344.07 397.65,343.82 398.45,343.57 399.25,343.32 400.05,343.07 400.85,342.82 401.65,342.57 402.45,342.32 403.25,342.07 404.06,341.82 404.86,341.57 405.66,341.32 406.46,341.06 407.26,340.81 408.06,340.56 408.86,340.30 409.66,340.05 410.46,339.79 411.26,339.54 412.06,339.28 412.86,339.02 413.67,338.76 414.47,338.50 415.27,338.24 416.07,337.98 416.87,337.72 417.67,337.46 418.47,337.19 419.27,336.93 420.07,336.66 420.87,336.40 421.67,336.13 422.48,335.86 423.28,335.59 424.08,335.32 424.88,335.04 425.68,334.77 426.48,334.49 427.28,334.21 428.08,333.93 428.88,333.65 429.68,333.37 430.48,333.09 431.28,332.80 432.09,332.51 432.89,332.23 433.69,331.93 434.49,331.64 435.29,331.35 436.09,331.05 436.89,330.75 437.69,330.45 438.49,330.15 439.29,329.85 440.09,329.54 440.90,329.23 441.70,328.92 442.50,328.61 443.30,328.30 444.10,327.98 444.90,327.66 445.70,327.34 446.50,327.01 447.30,326.69 448.10,326.36 448.90,326.03 449.70,325.69 450.51,325.36 451.31,325.02 452.11,324.68 452.91,324.33 453.71,323.99 454.51,323.64 455.31,323.28 456.11,322.93 456.91,322.57 457.71,322.21 458.51,321.85 459.32,321.49 460.12,321.12 460.92,320.75 461.72,320.38 462.52,320.01 463.32,319.64 464.12,319.26 464.92,318.88 465.72,318.50 466.52,318.12 467.32,317.73 468.12,317.35 468.93,316.96 469.73,316.57 470.53,316.18 471.33,315.79 472.13,315.39 472.93,315.00 473.73,314.60 474.53,314.20 475.33,313.80 476.13,313.40 476.93,313.00 477.74,312.59 478.54,312.19 479.34,311.78 480.14,311.38 480.94,310.97 481.74,310.56 482.54,310.15 483.34,309.74 484.14,309.33 484.94,308.91 485.74,308.50 486.54,308.09 487.35,307.67 488.15,307.26 488.95,306.84 489.75,306.42 490.55,306.01 491.35,305.59 492.15,305.17 492.95,304.75 493.75,304.33 494.55,303.91 495.35,303.50 496.15,303.08 496.96,302.66 497.76,302.24 498.56,301.82 499.36,301.40 500.16,300.98 500.96,300.56 501.76,300.14 502.56,299.72 503.36,299.30 504.16,298.88 504.96,298.47 505.77,298.05 506.57,297.63 507.37,297.22 508.17,296.80 508.97,296.38 509.77,295.97 510.57,295.55 511.37,295.14 512.17,294.73 512.97,294.31 513.77,293.90 514.57,293.49 515.38,293.07 516.18,292.66 516.98,292.25 517.78,291.83 518.58,291.42 519.38,291.00 520.18,290.59 520.98,290.17 521.78,289.75 522.58,289.33 523.38,288.91 524.19,288.49 524.99,288.07 525.79,287.64 526.59,287.22 527.39,286.79 528.19,286.36 528.99,285.93 529.79,285.50 530.59,285.06 531.39,284.63 532.19,284.19 532.99,283.74 533.80,283.30 534.60,282.85 535.40,282.40 536.20,281.95 537.00,281.49 537.80,281.03" fill="none" stroke="#0000ff" stroke-width="1.3" stroke-linejoin="round" stroke-dasharray="4.0 2.9 1.0 3.0"/>
<text class="lab" font-size="10.5" x="147" y="192.3" text-anchor="middle">Fo</text>
<text class="lab" font-size="10.5" x="432.7" y="192.8" text-anchor="middle">Fo</text>
<text class="lab" font-size="12.5" x="147.3" y="412.6" text-anchor="middle">Fo</text>
<text class="lab" font-size="10.2" x="432.8" y="412.6" text-anchor="middle">Fo</text>
<text class="lab" font-size="10" transform="translate(20.2,93.6) rotate(-90)" text-anchor="middle">MF</text>
<text class="lab" transform="translate(301.6,102) rotate(-90)"><tspan font-size="10.2">η</tspan><tspan font-style="normal" font-size="8.6" dy="3.2">ex</tspan></text>
<text class="lab" transform="translate(9.2,318.7) rotate(-90)"><tspan font-size="10">θ</tspan><tspan font-style="normal" font-size="6.6" dy="2.8">W</tspan></text>
<text class="lab" transform="translate(303,316.2) rotate(-90)"><tspan font-size="10.5">θ</tspan><tspan font-style="normal" font-size="9" dy="2.6">p</tspan></text>
<text class="cap" x="128" y="211.8">(<tspan font-weight="bold">a</tspan>)</text>
<text class="cap" x="412.6" y="211.8">(<tspan font-weight="bold">b</tspan>)</text>
<text class="cap" x="128.4" y="429.2">(<tspan font-weight="bold">c</tspan>)</text>
<text class="cap" x="413.1" y="429.2">(<tspan font-weight="bold">d</tspan>)</text>
<line x1="182.6" y1="124.5" x2="201.9" y2="124.5" stroke="#000" stroke-width="1.3"/>
<text class="lg" x="203.6" y="127.70"><tspan font-style="italic" font-size="9">X</tspan><tspan font-size="5.6" dy="2.6" dx="0.3">off</tspan><tspan dy="-3.2" dx="0.2" font-size="7">=</tspan><tspan dy="0.6" dx="0.4">0</tspan></text>
<line x1="182.6" y1="137.5" x2="201.9" y2="137.5" stroke="#f00" stroke-width="1.3" stroke-dasharray="3.5 3.6"/>
<text class="lg" x="203.6" y="140.70"><tspan font-style="italic" font-size="9">X</tspan><tspan font-size="5.6" dy="2.6" dx="0.3">off</tspan><tspan dy="-3.2" dx="0.2" font-size="7">=</tspan><tspan dy="0.6" dx="0.4">0.125</tspan></text>
<line x1="182.6" y1="150.2" x2="201.9" y2="150.2" stroke="#00f" stroke-width="1.3" stroke-dasharray="3.9 2.0 1.1 1.8"/>
<text class="lg" x="203.6" y="153.40"><tspan font-style="italic" font-size="9">X</tspan><tspan font-size="5.6" dy="2.6" dx="0.3">off</tspan><tspan dy="-3.2" dx="0.2" font-size="7">=</tspan><tspan dy="0.6" dx="0.4">0.1875</tspan></text>
<line x1="465.9" y1="121.6" x2="485.0" y2="121.6" stroke="#000" stroke-width="1.3"/>
<text class="lg" x="486.8" y="124.80"><tspan font-style="italic" font-size="9">X</tspan><tspan font-size="5.6" dy="2.6" dx="0.3">off</tspan><tspan dy="-3.2" dx="0.2" font-size="7">=</tspan><tspan dy="0.6" dx="0.4">0</tspan></text>
<line x1="465.9" y1="134.7" x2="485.0" y2="134.7" stroke="#f00" stroke-width="1.3" stroke-dasharray="3.5 3.6"/>
<text class="lg" x="486.8" y="137.90"><tspan font-style="italic" font-size="9">X</tspan><tspan font-size="5.6" dy="2.6" dx="0.3">off</tspan><tspan dy="-3.2" dx="0.2" font-size="7">=</tspan><tspan dy="0.6" dx="0.4">0.125</tspan></text>
<line x1="465.9" y1="147.9" x2="485.0" y2="147.9" stroke="#00f" stroke-width="1.3" stroke-dasharray="3.9 2.0 1.1 1.8"/>
<text class="lg" x="486.8" y="151.10"><tspan font-style="italic" font-size="9">X</tspan><tspan font-size="5.6" dy="2.6" dx="0.3">off</tspan><tspan dy="-3.2" dx="0.2" font-size="7">=</tspan><tspan dy="0.6" dx="0.4">0.1875</tspan></text>
<line x1="48.0" y1="234.6" x2="67.5" y2="234.6" stroke="#000" stroke-width="1.3"/>
<text class="lg" x="69.2" y="237.80"><tspan font-style="italic" font-size="9">X</tspan><tspan font-size="5.6" dy="2.6" dx="0.3">off</tspan><tspan dy="-3.2" dx="0.2" font-size="7">=</tspan><tspan dy="0.6" dx="0.4">0</tspan></text>
<line x1="48.0" y1="247.9" x2="67.5" y2="247.9" stroke="#f00" stroke-width="1.3" stroke-dasharray="3.5 3.6"/>
<text class="lg" x="69.2" y="251.10"><tspan font-style="italic" font-size="9">X</tspan><tspan font-size="5.6" dy="2.6" dx="0.3">off</tspan><tspan dy="-3.2" dx="0.2" font-size="7">=</tspan><tspan dy="0.6" dx="0.4">0.125</tspan></text>
<line x1="48.0" y1="261.3" x2="67.5" y2="261.3" stroke="#00f" stroke-width="1.3" stroke-dasharray="3.9 2.0 1.1 1.8"/>
<text class="lg" x="69.2" y="264.50"><tspan font-style="italic" font-size="9">X</tspan><tspan font-size="5.6" dy="2.6" dx="0.3">off</tspan><tspan dy="-3.2" dx="0.2" font-size="7">=</tspan><tspan dy="0.6" dx="0.4">0.1875</tspan></text>
<line x1="335.0" y1="236.1" x2="354.4" y2="236.1" stroke="#000" stroke-width="1.3"/>
<text class="lg" x="355.7" y="239.30"><tspan font-style="italic" font-size="9">X</tspan><tspan font-size="5.6" dy="2.6" dx="0.3">off</tspan><tspan dy="-3.2" dx="0.2" font-size="7">=</tspan><tspan dy="0.6" dx="0.4">0</tspan></text>
<line x1="335.0" y1="249.0" x2="354.4" y2="249.0" stroke="#f00" stroke-width="1.3" stroke-dasharray="3.5 3.6"/>
<text class="lg" x="355.7" y="252.20"><tspan font-style="italic" font-size="9">X</tspan><tspan font-size="5.6" dy="2.6" dx="0.3">off</tspan><tspan dy="-3.2" dx="0.2" font-size="7">=</tspan><tspan dy="0.6" dx="0.4">0.125</tspan></text>
<line x1="335.0" y1="262.1" x2="354.4" y2="262.1" stroke="#00f" stroke-width="1.3" stroke-dasharray="3.9 2.0 1.1 1.8"/>
<text class="lg" x="355.7" y="265.30"><tspan font-style="italic" font-size="9">X</tspan><tspan font-size="5.6" dy="2.6" dx="0.3">off</tspan><tspan dy="-3.2" dx="0.2" font-size="7">=</tspan><tspan dy="0.6" dx="0.4">0.1875</tspan></text>
</svg>
</body></html>
